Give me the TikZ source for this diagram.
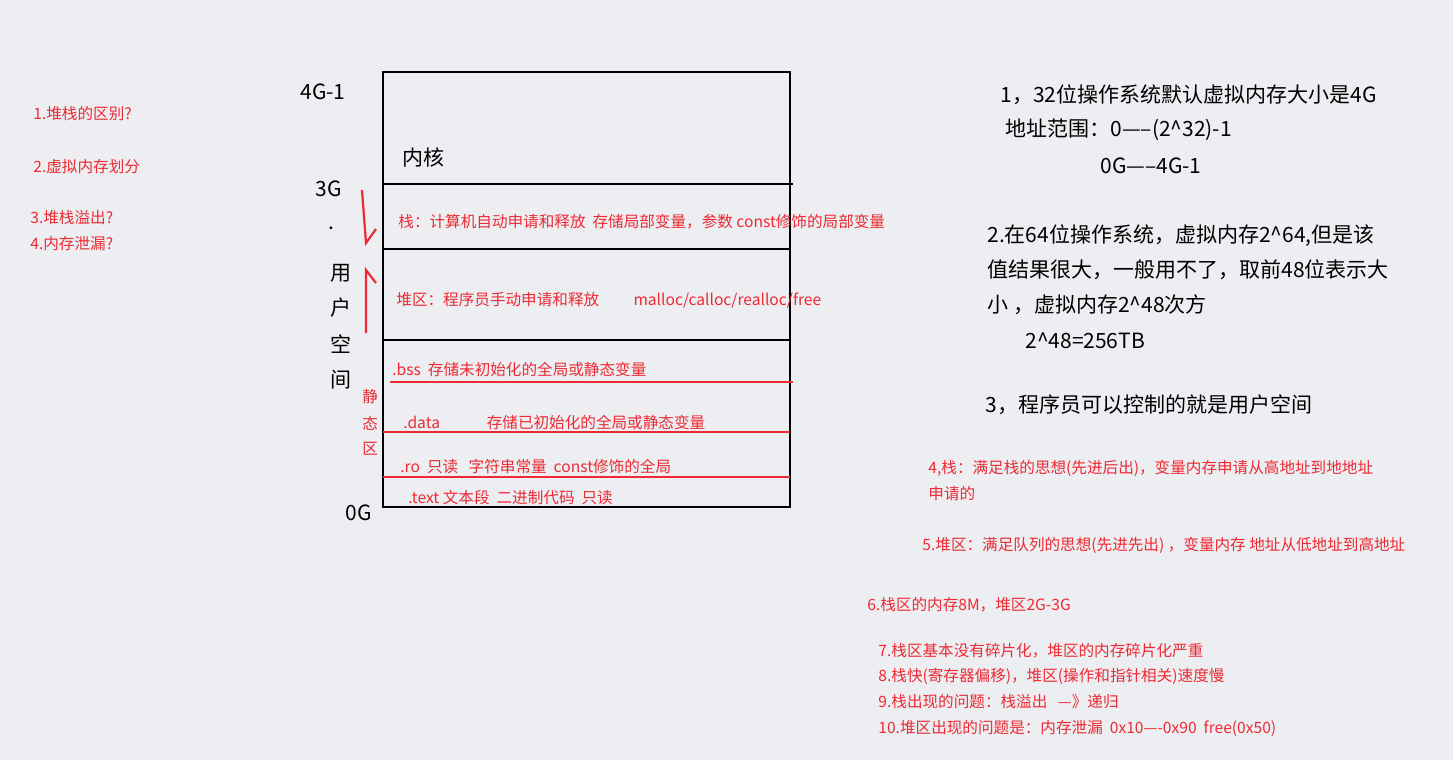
\documentclass[tikz,border=0pt]{standalone}
\usepackage{fontspec}
\setmainfont{Noto Sans CJK SC}
\begin{document}
\begin{tikzpicture}[x=0.5pt,y=-0.5pt]
\definecolor{bg}{HTML}{ECEEF1}
\definecolor{rd}{HTML}{EE2A34}
\tikzset{big/.style={anchor=west,inner sep=0,font=\fontsize{10.5}{12}\selectfont},
 sm/.style={anchor=west,inner sep=0,text=rd,font=\fontsize{7.8}{9}\selectfont},
 rl/.style={draw=rd,line width=1.1pt},
 bl/.style={draw=black,line width=0.9pt}}
\fill[bg] (0,0) rectangle (1453,760);
\useasboundingbox (0,0) rectangle (1453,760);
% box
\draw[bl] (383,72) rectangle (790,507);
\coordinate (a1) at (383,184); \coordinate (a2) at (793,184);
\draw[bl] (a1) -- (a2);
\coordinate (b1) at (383,249); \coordinate (b2) at (790,249);
\draw[bl] (b1) -- (b2);
\coordinate (c1) at (383,340); \coordinate (c2) at (790,340);
\draw[bl] (c1) -- (c2);
\coordinate (d1) at (390,382); \coordinate (d2) at (793,382);
\draw[rl] (d1) -- (d2);
\coordinate (e1) at (383,432); \coordinate (e2) at (790,432);
\draw[rl] (e1) -- (e2);
\coordinate (f1) at (383,477); \coordinate (f2) at (790,477);
\draw[rl] (f1) -- (f2);
% arrows
\coordinate (s1) at (362,190); \coordinate (s2) at (366,243); \coordinate (s3) at (376,229);
\draw[rl] (s1) -- (s2) -- (s3);
\coordinate (h1) at (366,333); \coordinate (h2) at (366,270); \coordinate (h3) at (376,283);
\draw[rl] (h1) -- (h2) -- (h3);
% labels
\node[big] (t4g) at (300,92) {4G-1};
\node[big] (tk) at (402,157) {内核};
\node[big] (t3g) at (315,189) {3G};
\node[big] (dot) at (328,228) {.};
\node[big] (u1) at (330,273) {用};
\node[big] (u2) at (330,308) {户};
\node[big] (u3) at (330,344) {空};
\node[big] (u4) at (330,380) {间};
\node[sm] (j1) at (362,397) {静};
\node[sm] (j2) at (362,423) {态};
\node[sm] (j3) at (362,449) {区};
\node[big] (t0g) at (345,513) {0G};
\node[sm] (zs) at (398,222) {栈：计算机自动申请和释放\ \ 存储局部变量，参数 const修饰的局部变量};
\node[sm] (dq) at (396,300) {堆区：程序员手动申请和释放\hspace{2.2em}malloc/calloc/realloc/free};
\node[sm] (bss) at (392,369) {.bss\ \ 存储未初始化的全局或静态变量};
\node[sm] (dat) at (403,422) {.data\hspace{3em}存储已初始化的全局或静态变量};
\node[sm] (ro) at (400,467) {.ro\ \ 只读\ \ \ 字符串常量\ \ const修饰的全局};
\node[sm] (txt) at (408,498) {.text 文本段\ \ 二进制代码\ \ 只读};
% left notes
\node[sm] (n1) at (33,114) {1.堆栈的区别?};
\node[sm] (n2) at (33,167) {2.虚拟内存划分};
\node[sm] (n3) at (30,218) {3.堆栈溢出?};
\node[sm] (n4) at (30,244) {4.内存泄漏?};
% right black
\node[big] (r1) at (1000,95) {1，32位操作系统默认虚拟内存大小是4G};
\node[big] (r2) at (1005,130) {地址范围：0-----(2\^{}32)-1};
\node[big] (r3) at (1100,166) {0G-----4G-1};
\node[big] (r4) at (987,236) {2.在64位操作系统，虚拟内存2\^{}64,但是该};
\node[big] (r5) at (987,270) {值结果很大，一般用不了，取前48位表示大};
\node[big] (r6) at (987,305) {小 ，虚拟内存2\^{}48次方};
\node[big] (r7) at (1025,341) {2\^{}48=256TB};
\node[big] (r8) at (985,405) {3，程序员可以控制的就是用户空间};
% right red
\node[sm] (m4) at (928,468) {4,栈：满足栈的思想(先进后出)，变量内存申请从高地址到地地址};
\node[sm] (m4b) at (928,494) {申请的};
\node[sm] (m5) at (922,545) {5.堆区：满足队列的思想(先进先出) ，变量内存 地址从低地址到高地址};
\node[sm] (m6) at (867,605) {6.栈区的内存8M，堆区2G-3G};
\node[sm] (m7) at (878,651) {7.栈区基本没有碎片化，堆区的内存碎片化严重};
\node[sm] (m8) at (878,676) {8.栈快(寄存器偏移)，堆区(操作和指针相关)速度慢};
\node[sm] (m9) at (878,702) {9.栈出现的问题：栈溢出\ \ \ ---》递归};
\node[sm] (m10) at (878,728) {10.堆区出现的问题是：内存泄漏\ \ 0x10----0x90\ \ free(0x50)};
\end{tikzpicture}
\end{document}
